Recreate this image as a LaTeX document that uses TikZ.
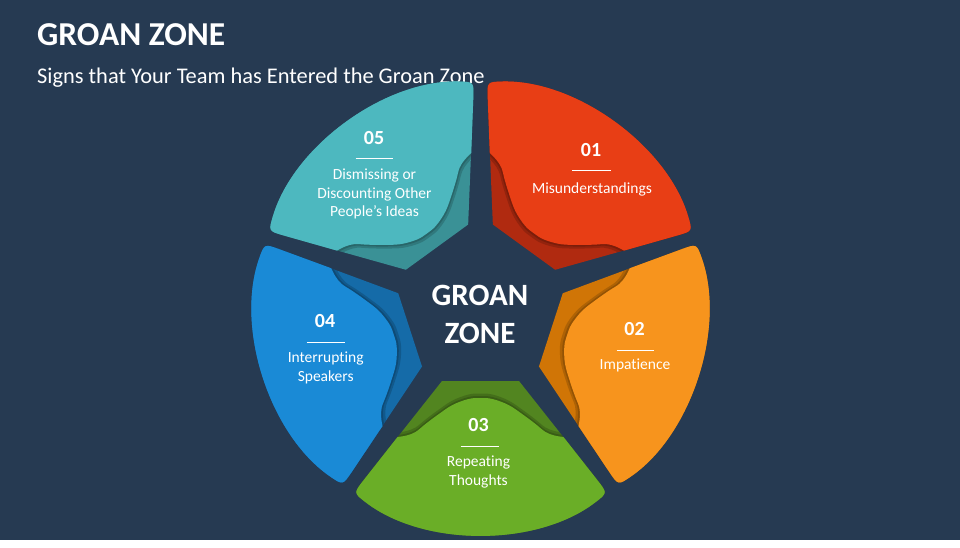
\documentclass[tikz,border=0pt]{standalone}
\usepackage{fontspec}
\setmainfont{Carlito}[Ligatures={NoCommon}]
\usetikzlibrary{positioning}
\definecolor{bg}{HTML}{263A52}
\definecolor{redL}{HTML}{E83E15}
\definecolor{redD}{HTML}{B02A10}
\definecolor{orgL}{HTML}{F7941D}
\definecolor{orgD}{HTML}{D07506}
\definecolor{grnL}{HTML}{6AAE27}
\definecolor{grnD}{HTML}{528520}
\definecolor{bluL}{HTML}{1A8AD6}
\definecolor{bluD}{HTML}{156BA8}
\definecolor{teaL}{HTML}{4DB8BF}
\definecolor{teaD}{HTML}{3A9196}
\tikzset{
  ttl/.style ={anchor=base west, inner sep=0pt, text=white, font=\bfseries\fontsize{33.4}{40}\selectfont},
  sub/.style ={anchor=base west, inner sep=0pt, text=white, font=\fontsize{22.4}{27}\selectfont},
  ctr/.style ={anchor=base, inner sep=0pt, text=white, font=\bfseries\fontsize{31}{37}\selectfont},
  num/.style ={anchor=base, inner sep=0pt, text=white, font=\bfseries\fontsize{20}{24}\selectfont},
  lbl/.style ={anchor=base, inner sep=0pt, text=white, font=\fontsize{15.5}{18.7}\selectfont},
  rule/.style={draw=white, line width=1pt},
  shade/.style={fill=black, opacity=0.16},
}
% one segment, pointing along +x, centre at the origin
\newcommand{\segbase}{(74,-38.5) -- (173.4,-117.1) .. controls (186,-127) .. (195.7,-114.3)
  .. controls (240,-56) and (240,56) .. (195.7,114.3) .. controls (186,127) .. (173.4,117.1)
  -- (74,38.5) -- cycle}
\newcommand{\segtop}{(130,-83) -- (173.4,-117.1) .. controls (186,-127) .. (195.7,-114.3)
  .. controls (240,-56) and (240,56) .. (195.7,114.3) .. controls (186,127) .. (173.4,117.1)
  -- (130,83) plot[smooth, tension=0.6] coordinates {(130,83) (128.5,74) (125,65) (117,55)
  (108,43) (98,28) (92,12) (91,0) (92,-12) (98,-28) (108,-43) (117,-55) (125,-65)
  (128.5,-74) (130,-83)} -- cycle}

\begin{document}
\begin{tikzpicture}[x=1pt,y=-1pt]
\fill[bg] (0,0) rectangle (960,540);
\node[ttl] (title) at (37,45) {GROAN ZONE};
\node[sub] (subtitle) at (37,83) {Signs that Your Team has Entered the Groan Zone};
% five segments round the centre
\foreach \ang/\lt/\dk in {-90/grnL/grnD, -18/orgL/orgD, 54/redL/redD, 126/teaL/teaD, 198/bluL/bluD}{
  \begin{scope}[shift={(480.5,307)}, rotate=\ang]
    \fill[\dk] \segbase;
    \begin{scope}
      \clip \segbase;
      \fill[shade, shift={(-2,0)}] \segtop;
      \fill[shade, shift={(-4.5,0)}] \segtop;
    \end{scope}
    \fill[\lt] \segtop;
  \end{scope}
}
\node[ctr] (core1) at (480,305) {GROAN};
\node[ctr] (core2) at (480,343) {ZONE};
% 01
\node[num] (n01) at (591,156) {01};
\draw[rule] (572,170.7) -- (610.7,170.7);
\node[lbl] (t01) at (592,193.3) {Misunderstandings};
% 02
\node[num] (n02) at (634.5,335) {02};
\draw[rule] (616.7,350) -- (654.3,350);
\node[lbl] (t02) at (635,369.7) {Impatience};
% 03
\node[num] (n03) at (478.5,431.7) {03};
\draw[rule] (460.7,446.3) -- (499,446.3);
\node[lbl] (t03a) at (478.5,466.7) {Repeating};
\node[lbl] (t03b) at (478.5,485) {Thoughts};
% 04
\node[num] (n04) at (325,327.3) {04};
\draw[rule] (306.7,342.3) -- (345,342.3);
\node[lbl] (t04a) at (325.7,362.7) {Interrupting};
\node[lbl] (t04b) at (325.7,381) {Speakers};
% 05
\node[num] (n05) at (374,144) {05};
\draw[rule] (355.7,158.7) -- (393.3,158.7);
\node[lbl] (t05a) at (374.5,179.3) {Dismissing or};
\node[lbl] (t05b) at (374.5,198) {Discounting Other};
\node[lbl] (t05c) at (374.5,216.7) {People’s Ideas};
\end{tikzpicture}
\end{document}
